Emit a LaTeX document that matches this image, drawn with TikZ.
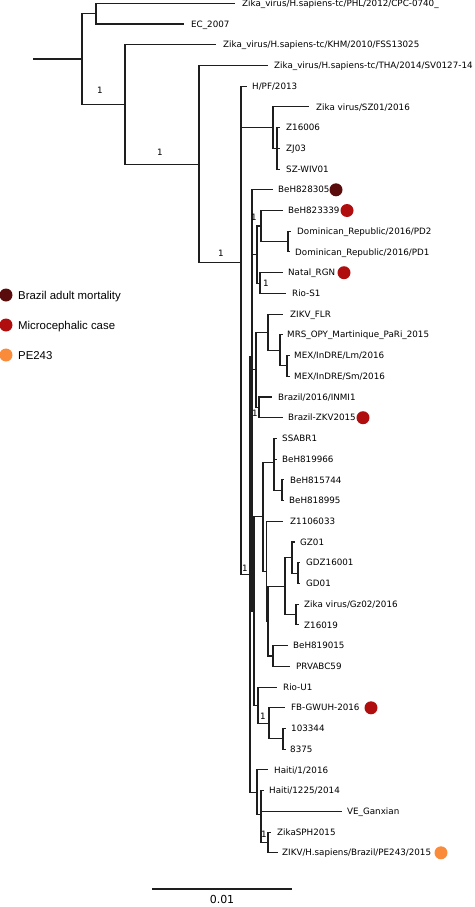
\documentclass[tikz,border=0pt]{standalone}
\usepackage{fontspec}
\newfontfamily\treefont{DejaVu Sans}
\newfontfamily\legfont{Liberation Sans}
\definecolor{adultc}{HTML}{5A0C0C}
\definecolor{microc}{HTML}{B00E0E}
\definecolor{pec}{HTML}{F98B3A}
\definecolor{linec}{HTML}{1E1E1E}
\newcommand\leaf[5]{\coordinate (#1) at (#2,#4);\node[leaflab] (#1l) at (#3,#4) {#5};}
\begin{document}
\begin{tikzpicture}[x=1pt,y=-1pt,
  br/.style={draw=linec,line width=1.1pt},
  leaflab/.style={anchor=base west,inner sep=0pt,yshift=-3.1pt,font=\treefont\fontsize{8.75}{10}\selectfont},
  bs/.style={inner sep=0pt,font=\treefont\fontsize{8.75}{10}\selectfont},
  dotm/.style={circle,inner sep=0pt,minimum size=13pt},
  legtxt/.style={anchor=base west,inner sep=0pt,yshift=-4pt,font=\legfont\fontsize{11.4}{13}\selectfont}]
\useasboundingbox (0,0) rectangle (474,907);
\clip (0,0) rectangle (474,907);
% ---- leaves: name, tip x, text x, y, text
\leaf{l1}{235}{242}{3.3}{Zika\_virus/H.sapiens-tc/PHL/2012/CPC-0740\_}
\leaf{l2}{184}{191}{24.0}{EC\_2007}
\leaf{l3}{216}{223}{44.7}{Zika\_virus/H.sapiens-tc/KHM/2010/FSS13025}
\leaf{l4}{268}{274}{65.5}{Zika\_virus/H.sapiens-tc/THA/2014/SV0127-14}
\leaf{l5}{247}{252}{86.2}{H/PF/2013}
\leaf{l6}{309}{316}{106.9}{Zika virus/SZ01/2016}
\leaf{l7}{280}{286}{127.6}{Z16006}
\leaf{l8}{280}{286}{148.3}{ZJ03}
\leaf{l9}{280}{286}{169.1}{SZ-WIV01}
\leaf{l10}{273}{278}{189.8}{BeH828305}
\leaf{l11}{283}{288}{210.5}{BeH823339}
\leaf{l12}{291}{297}{231.2}{Dominican\_Republic/2016/PD2}
\leaf{l13}{290}{295}{251.9}{Dominican\_Republic/2016/PD1}
\leaf{l14}{283}{288}{272.7}{Natal\_RGN}
\leaf{l15}{286}{292}{293.4}{Rio-S1}
\leaf{l16}{283}{290}{314.1}{ZIKV\_FLR}
\leaf{l17}{283}{287}{334.8}{MRS\_OPY\_Martinique\_PaRi\_2015}
\leaf{l18}{290}{294}{355.5}{MEX/InDRE/Lm/2016}
\leaf{l19}{290}{294}{376.3}{MEX/InDRE/Sm/2016}
\leaf{l20}{272}{278}{397.0}{Brazil/2016/INMI1}
\leaf{l21}{283}{288}{417.7}{Brazil-ZKV2015}
\leaf{l22}{277}{282}{438.4}{SSABR1}
\leaf{l23}{277}{282}{459.1}{BeH819966}
\leaf{l24}{284}{290}{479.9}{BeH815744}
\leaf{l25}{284}{289}{500.6}{BeH818995}
\leaf{l26}{283}{290}{521.3}{Z1106033}
\leaf{l27}{295}{300}{542.0}{GZ01}
\leaf{l28}{300}{306}{562.7}{GDZ16001}
\leaf{l29}{300}{306}{583.5}{GD01}
\leaf{l30}{299}{304}{604.2}{Zika virus/Gz02/2016}
\leaf{l31}{299}{304}{624.9}{Z16019}
\leaf{l32}{288}{293}{645.6}{BeH819015}
\leaf{l33}{290}{296}{666.3}{PRVABC59}
\leaf{l34}{277}{283}{687.1}{Rio-U1}
\leaf{l35}{285}{291}{707.8}{FB-GWUH-2016}
\leaf{l36}{286}{291}{728.5}{103344}
\leaf{l37}{286}{290}{749.2}{8375}
\leaf{l38}{268}{274}{769.9}{Haiti/1/2016}
\leaf{l39}{264}{269}{790.7}{Haiti/1225/2014}
\leaf{l40}{342}{347}{811.4}{VE\_Ganxian}
\leaf{l41}{271}{277}{832.1}{ZikaSPH2015}
\leaf{l42}{278}{282}{852.8}{ZIKV/H.sapiens/Brazil/PE243/2015}
% ---- internal nodes
\coordinate (root0) at (33,59.0);
\coordinate (R) at (82,59.0);
\coordinate (T) at (96,13.65);
\coordinate (K) at (125,104.4);
\coordinate (TH) at (199,164.1);
\coordinate (N1) at (241,262.7);
\coordinate (SZ) at (273,127.6);
\coordinate (SZi) at (277,148.3);
\coordinate (AM) at (250,574.35);
\coordinate (P) at (252,356.3);
\coordinate (B1) at (257,254.5);
\coordinate (B823) at (261,226.0);
\coordinate (DR) at (288,241.55);
\coordinate (NT) at (260,283.05);
\coordinate (C) at (256,369.8);
\coordinate (FL) at (268,332.2);
\coordinate (MR) at (280,350.35);
\coordinate (MX) at (287,365.9);
\coordinate (BR) at (259,407.35);
\coordinate (Q) at (254,611.05);
\coordinate (E) at (263,516.9);
\coordinate (SS) at (274,462.6);
\coordinate (BH) at (282,490.25);
\coordinate (ZN) at (266.5,571.15);
\coordinate (D) at (268,621.0);
\coordinate (GB) at (285,586.05);
\coordinate (G1) at (292,557.55);
\coordinate (GD) at (298,573.1);
\coordinate (G2) at (296,614.55);
\coordinate (BF) at (273,655.95);
\coordinate (RU) at (258,705.2);
\coordinate (FB) at (269,723.3);
\coordinate (FB3) at (283,738.85);
\coordinate (HA) at (257,792.4);
\coordinate (H2) at (261,814.85);
\coordinate (SP) at (268,842.45);
% ---- branches
\draw[br] (root0) -- (R);
\foreach \p/\c in {R/T,R/K,T/l1,T/l2,K/l3,K/TH,TH/l4,TH/N1,N1/l5,N1/SZ,N1/AM,
  SZ/l6,SZ/SZi,SZi/l7,SZi/l8,SZi/l9,AM/P,AM/HA,
  P/l10,P/B1,P/C,P/Q,B1/B823,B1/NT,B823/l11,B823/DR,DR/l12,DR/l13,NT/l14,NT/l15,
  C/FL,C/BR,FL/l16,FL/MR,MR/l17,MR/MX,MX/l18,MX/l19,BR/l20,BR/l21,
  Q/E,Q/RU,E/SS,E/ZN,SS/l22,SS/l23,SS/BH,BH/l24,BH/l25,ZN/l26,ZN/D,D/GB,D/BF,
  GB/G1,GB/G2,G1/l27,G1/GD,GD/l28,GD/l29,G2/l30,G2/l31,BF/l32,BF/l33,
  RU/l34,RU/FB,FB/l35,FB/FB3,FB3/l36,FB3/l37,
  HA/l38,HA/H2,H2/l39,H2/l40,H2/SP,SP/l41,SP/l42}
  {\draw[br] (\p) |- (\c);}
% ---- support values
\node[bs] (s1) at (100,90) {1};
\node[bs] (s2) at (160,152) {1};
\node[bs] (s3) at (221,253) {1};
\node[bs] (s4) at (254,217) {1};
\node[bs] (s5) at (266,283) {1};
\node[bs] (s6) at (255,413) {1};
\node[bs] (s7) at (245,568) {1};
\node[bs] (s8) at (263,716) {1};
\node[bs] (s9) at (264,834) {1};
% ---- markers
\node[dotm,fill=adultc] (m1) at (336,189.8) {};
\node[dotm,fill=microc] (m2) at (347,210.5) {};
\node[dotm,fill=microc] (m3) at (344,272.7) {};
\node[dotm,fill=microc] (m4) at (363,417.7) {};
\node[dotm,fill=microc] (m5) at (371,707.8) {};
\node[dotm,fill=pec] (m6) at (441,852.8) {};
% ---- legend
\node[dotm,fill=adultc] (g1) at (6,295) {};
\node[legtxt] (g1t) at (18,295) {Brazil adult mortality};
\node[dotm,fill=microc] (g2) at (6,325) {};
\node[legtxt] (g2t) at (18,325) {Microcephalic case};
\node[dotm,fill=pec] (g3) at (6,355) {};
\node[legtxt] (g3t) at (18,355) {PE243};
% ---- scale bar
\coordinate (sb1) at (152,889);
\coordinate (sb2) at (292,889);
\draw[br] (sb1) -- (sb2);
\node[bs,font=\treefont\fontsize{11}{13}\selectfont] (sbl) at (222,899.5) {0.01};
\end{tikzpicture}
\end{document}
